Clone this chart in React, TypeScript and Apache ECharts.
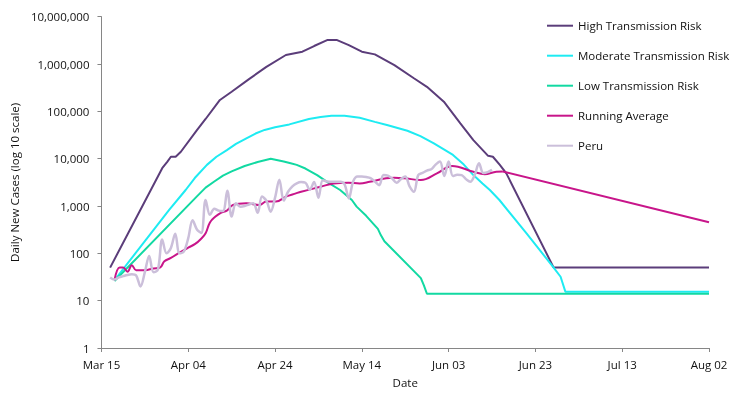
import React, { useEffect, useRef } from "react";
import * as echarts from "echarts";

// x values are days after Mar 15 (2020)
const xTickLabels = ["Mar 15", "Apr 04", "Apr 24", "May 14", "Jun 03", "Jun 23", "Jul 13", "Aug 02"];
const yTickLabels = ["1", "10", "100", "1,000", "10,000", "100,000", "1,000,000", "10,000,000"];
const seriesNames = ["High Transmission Risk", "Moderate Transmission Risk", "Low Transmission Risk", "Running Average", "Peru"];

const highRisk: [number, number][] = [
  [2, 50], [14, 6300], [15.2, 8700], [16, 11000], [17.1, 11000], [18.3, 14000], [22, 40000], [24, 69000],
  [27.3, 174000], [30, 260000], [34, 480000], [38, 870000], [42.5, 1550000], [46.3, 1820000], [49, 2400000],
  [52, 3200000], [54.3, 3200000], [57, 2500000], [60, 1820000], [63, 1600000], [67.5, 950000], [72, 500000],
  [75, 330000], [78.9, 160000], [82.7, 56000], [85.7, 24700], [89.1, 11500], [90.2, 11000], [91.8, 7400],
  [93.3, 4900], [104.2, 50], [140, 50],
];

const moderateRisk: [number, number][] = [
  [3, 27], [15.6, 830], [19.4, 2180], [21.5, 3900], [24.3, 7400], [26.5, 11000], [28.9, 15200], [31, 20500],
  [33.4, 27000], [35.5, 34000], [37.6, 40500], [40, 46000], [43.3, 53000], [47.8, 69000], [50.5, 76000],
  [53, 81000], [56, 81000], [59.5, 73000], [63, 60000], [66, 51000], [70.5, 39000], [73.5, 30000],
  [76.6, 21000], [79, 15500], [81, 12000], [83.5, 7500], [85.7, 4500], [87.8, 3000], [89.5, 2180],
  [91.7, 1340], [98, 260], [104.2, 50], [105.8, 32], [106.9, 15.5], [140, 15.5],
];

const lowRisk: [number, number][] = [
  [3, 26], [22, 1600], [24, 2450], [26, 3300], [28, 4400], [30, 5400], [33, 7000], [36, 8500], [39, 10000],
  [42, 8700], [43.6, 8000], [45, 7400], [47, 6200], [49.7, 4500], [52.5, 3000], [55, 2180], [57.7, 1340],
  [58.8, 970], [61, 620], [63.7, 330], [64.4, 240], [65.2, 180], [73.6, 30], [74.3, 21], [75, 14], [140, 14],
];

const runningAverage: [number, number][] = [
  [3, 27], [4.2, 50], [5, 50], [6, 41], [7, 56], [8, 44], [10, 44], [12, 48], [13.5, 50], [14.5, 68], [16, 80],
  [18.3, 108], [20, 132], [21.6, 158], [23, 205], [24, 265], [25, 450], [26.2, 590], [27.5, 720], [28.9, 800],
  [30.3, 1050], [33.4, 1140], [36.4, 1050], [38, 1240], [40.2, 1240], [42.5, 1580], [44.8, 1850], [46, 2000],
  [50.5, 2550], [53.5, 3000], [56.9, 3100], [59.5, 3000], [61.8, 3250], [65.6, 3850], [67.5, 3950],
  [69.8, 3850], [73.6, 3550], [77.3, 4900], [80.8, 7000], [85.7, 5300], [88.3, 4700], [91, 5300],
  [92.5, 5350], [140, 455],
];

const peru: [number, number][] = [
  [2, 31], [3, 28], [4, 31], [5, 33], [6, 35], [7, 36], [8, 34], [9, 20], [10, 40], [11, 88], [12, 40],
  [13, 45], [14, 195], [15, 100], [16, 130], [17, 260], [18, 100], [19, 110], [20, 210], [21, 500], [22, 320],
  [23, 270], [24, 1340], [25, 650], [26, 880], [27, 800], [28, 780], [29, 2100], [30, 600], [31, 1140],
  [32, 970], [33, 1000], [34, 1080], [35, 1140], [36, 720], [37, 1580], [38, 1300], [39, 760], [40, 1500],
  [41, 3600], [42, 1300], [43, 2000], [44, 2600], [45, 3000], [46, 3200], [47, 3100], [48, 2200], [49, 3200],
  [50, 1500], [51, 3500], [52, 3300], [53, 3250], [54, 3250], [55, 3250], [56, 2900], [57, 1450], [58, 3300],
  [59, 4200], [60, 4200], [61, 4100], [62, 3900], [63, 3300], [64, 2750], [65, 4500], [66, 4400], [67, 3800],
  [68, 3100], [69, 3700], [70, 4200], [71, 2600], [72, 2000], [73, 4500], [74, 5000], [75, 5600], [76, 6000],
  [77, 7500], [78, 8700], [79, 4300], [80, 8700], [81, 4300], [82, 4600], [83, 4500], [84, 3700], [85, 3250],
  [86, 4500], [87, 8000], [88, 5000], [89, 5200], [90, 5800],
];

const colors = ["#5B3D7A", "#1EEBF2", "#12D9A2", "#C8158A", "#CBBFDA"];

export default function App() {
  const ref = useRef<HTMLDivElement>(null);
  useEffect(() => {
    const chart = echarts.init(ref.current!, null, { renderer: "svg" });
    const font = "'Open Sans', 'Noto Sans', sans-serif";
    const fs = 11.5;
    const txt = "#111";
    const mk = (name: string, i: number, data: [number, number][], smooth: number | boolean, width: number) => ({
      name,
      type: "line",
      data,
      symbol: "none",
      smooth,
      lineStyle: { width, color: colors[i] },
      itemStyle: { color: colors[i] },
    });
    chart.setOption({
      animation: false,
      color: colors,
      textStyle: { fontFamily: font },
      grid: { left: 93, right: 33, top: 16.7, bottom: 46, containLabel: false },
      legend: {
        orient: "vertical",
        left: 547,
        top: 19.7,
        padding: 0,
        itemWidth: 26,
        itemHeight: 14,
        itemGap: 18,
        icon: "path://M0,0L26,0L26,2L0,2Z",
        data: seriesNames,
        textStyle: { fontFamily: font, fontSize: fs, color: txt },
      },
      xAxis: {
        type: "value",
        min: 0,
        max: 140,
        interval: 20,
        name: "Date",
        nameLocation: "middle",
        nameGap: 28,
        nameTextStyle: { fontFamily: font, fontSize: fs, color: txt },
        splitLine: { show: false },
        axisLine: { show: true, lineStyle: { color: "#868686", width: 1 } },
        axisTick: { show: true, length: 4, lineStyle: { color: "#868686" } },
        axisLabel: {
          margin: 10,
          fontFamily: font,
          fontSize: fs,
          color: txt,
          formatter: (v: number) => xTickLabels[Math.round(v / 20)] ?? "",
        },
      },
      yAxis: {
        type: "log",
        logBase: 10,
        min: 1,
        max: 10000000,
        name: "Daily New Cases (log 10 scale)",
        nameLocation: "middle",
        nameGap: 74,
        nameTextStyle: { fontFamily: font, fontSize: fs, color: txt },
        splitLine: { show: false },
        axisLine: { show: true, lineStyle: { color: "#868686", width: 1 } },
        axisTick: { show: true, length: 4, lineStyle: { color: "#868686" } },
        axisLabel: {
          margin: 12,
          fontFamily: font,
          fontSize: fs,
          color: txt,
          formatter: (v: number) => yTickLabels[Math.round(Math.log10(v))] ?? "",
        },
      },
      series: [
        mk(seriesNames[0], 0, highRisk, false, 2),
        mk(seriesNames[1], 1, moderateRisk, false, 2),
        mk(seriesNames[2], 2, lowRisk, false, 2),
        mk(seriesNames[3], 3, runningAverage.slice(0, -1), 0.4, 2),
        mk(seriesNames[3], 3, runningAverage.slice(-2), false, 2),
        mk(seriesNames[4], 4, peru, 0.35, 2.5),
      ],
    });
    return () => chart.dispose();
  }, []);
  return <div ref={ref} style={{ position: "fixed", left: 0, top: 0, width: 742, height: 394 }} />;
}
